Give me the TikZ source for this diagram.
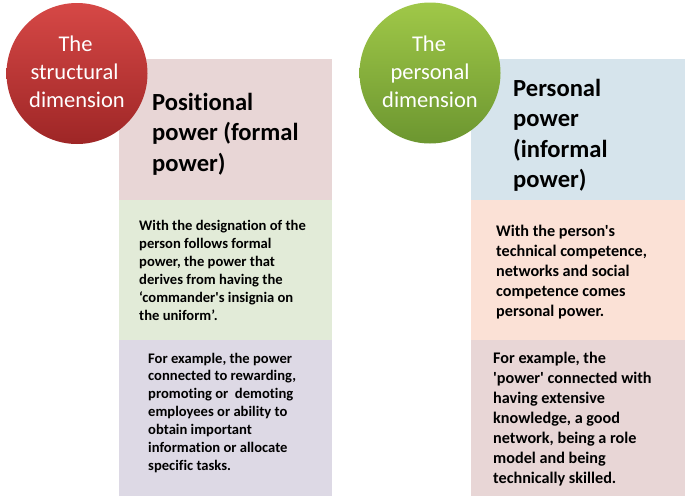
\documentclass[tikz,border=0pt]{standalone}
\usepackage{fontspec}
\setmainfont{Carlito}
\newfontfamily\calib[Ligatures=NoCommon]{Carlito}
\definecolor{boxpink}{RGB}{232,214,214}
\definecolor{boxgreen}{RGB}{226,235,216}
\definecolor{boxpurple}{RGB}{221,217,229}
\definecolor{boxblue}{RGB}{214,228,236}
\definecolor{boxpeach}{RGB}{251,225,214}
\definecolor{redtop}{RGB}{214,72,70}
\definecolor{redbot}{RGB}{158,38,38}
\definecolor{greentop}{RGB}{160,200,72}
\definecolor{greenbot}{RGB}{108,150,48}
\tikzset{
  panel/.style={draw=none, rectangle, inner sep=0pt, anchor=north west},
  dimcircle/.style={circle, draw=none, inner sep=0pt, minimum size=141pt},
  circtext/.style={text=white, align=center, font=\calib\fontsize{22.5}{28}\selectfont, inner sep=0pt, anchor=base},
  titletext/.style={anchor=base west, inner sep=0pt, font=\calib\fontsize{24.6}{30.5}\selectfont\bfseries, align=left},
  bodyL/.style={anchor=base west, inner sep=0pt, font=\calib\fontsize{14.6}{17.9}\selectfont\bfseries, align=left},
  bodyR/.style={anchor=base west, inner sep=0pt, font=\calib\fontsize{16.2}{20}\selectfont\bfseries, align=left},
}
\begin{document}
\begin{tikzpicture}[x=1pt,y=-1pt]
\useasboundingbox (0,0) rectangle (685,496);
% left column
\node[panel, fill=boxpink, minimum width=213pt, minimum height=141pt] (lt) at (119,59) {};
\node[panel, fill=boxgreen, minimum width=213pt, minimum height=140pt] (lm) at (119,200) {};
\node[panel, fill=boxpurple, minimum width=213pt, minimum height=156pt] (lb) at (119,340) {};
% right column
\node[panel, fill=boxblue, minimum width=214pt, minimum height=141pt] (rt) at (471,59) {};
\node[panel, fill=boxpeach, minimum width=214pt, minimum height=140pt] (rm) at (471,200) {};
\node[panel, fill=boxpink, minimum width=214pt, minimum height=156pt] (rb) at (471,340) {};
% circles
\node[dimcircle, top color=redtop, bottom color=redbot] (cl) at (77,73.5) {};
\node[dimcircle, top color=greentop, bottom color=greenbot] (cr) at (430,73) {};
% circle texts
\node[circtext] (cl1) at (75.5,51.5) {The};
\node[circtext] (cl2) at (74.5,79.5) {structural};
\node[circtext] (cl3) at (77,107.5) {dimension};
\node[circtext] (cr1) at (429,51.5) {The};
\node[circtext] (cr2) at (430,79.5) {personal};
\node[circtext] (cr3) at (430,107.5) {dimension};
% titles
\node[titletext] (ltt) at (152,110) {\parbox[t]{170pt}{\raggedright Positional\\power (formal\\power)}};
\node[titletext] (rtt) at (513,96) {\parbox[t]{160pt}{\raggedright Personal\\power\\(informal\\power)}};
% bodies
\node[bodyL] (lmt) at (139,230.7) {\parbox[t]{190pt}{\raggedright With the designation of the\\person follows formal\\power, the power that\\derives from having the\\‘commander's insignia on\\the uniform’.}};
\node[bodyL] (lbt) at (148,363) {\parbox[t]{180pt}{\raggedright For example, the power\\connected to rewarding,\\promoting or~ demoting\\employees or ability to\\obtain important\\information or allocate\\specific tasks.}};
\node[bodyR] (rmt) at (496,236.7) {\parbox[t]{185pt}{\raggedright With the person's\\technical competence,\\networks and social\\competence comes\\personal power.}};
\node[bodyR] (rbt) at (493,363) {\parbox[t]{190pt}{\raggedright For example, the\\'power' connected with\\having extensive\\knowledge, a good\\network, being a role\\model and being\\technically skilled.}};
\end{tikzpicture}
\end{document}
